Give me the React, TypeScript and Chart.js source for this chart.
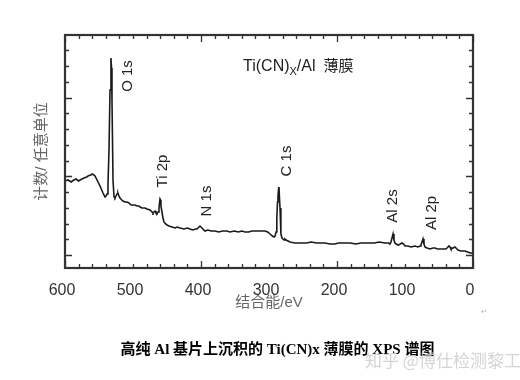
import React, { useEffect, useRef } from "react";
import { Chart, registerables } from "chart.js";

Chart.register(...registerables);

// Binding energy (eV) of each sampled point of the XPS survey spectrum
const energy = [
  600.0, 595.6, 591.0, 587.0, 583.8, 580.0, 577.9, 572.1, 568.0, 566.2, 562.0, 560.3, 557.5, 555.9,
  552.9, 548.5, 544.1, 541.2, 539.7, 538.2, 536.8, 535.3, 533.8, 532.4, 531.6, 530.9, 529.4, 527.9,
  526.5, 525.0, 523.5, 522.1, 520.6, 519.1, 516.5, 514.7, 511.8, 508.8, 505.9, 502.9, 500.0, 497.1,
  494.1, 491.2, 489.7, 486.8, 482.4, 479.4, 475.0, 472.0, 470.6, 469.1, 467.6, 466.2, 464.7, 463.2,
  461.8, 460.3, 459.6, 458.9, 457.4, 455.9, 454.4, 452.0, 450.0, 447.0, 442.6, 438.0, 435.0, 430.9,
  425.0, 420.0, 416.2, 412.0, 408.0, 405.9, 403.0, 401.5, 400.0, 398.5, 396.0, 394.1, 390.0, 385.0,
  379.4, 374.0, 368.0, 362.0, 357.4, 351.0, 345.0, 340.0, 335.3, 330.0, 325.0, 320.6, 315.0, 310.0,
  305.9, 302.0, 298.5, 295.0, 292.6, 291.0, 289.7, 288.5, 287.5, 286.8, 285.8, 285.3, 284.6, 283.8,
  282.5, 280.9, 279.5, 277.9, 276.5, 275.0, 272.0, 269.1, 262.0, 254.4, 245.0, 238.0, 230.0, 225.0,
  218.0, 210.0, 202.9, 198.0, 190.0, 180.9, 172.0, 165.0, 158.0, 151.5, 145.0, 138.0, 129.4, 124.0,
  122.1, 120.6, 119.1, 117.6, 116.2, 114.7, 113.2, 110.0, 107.0, 104.4, 102.0, 100.0, 96.0, 91.0,
  85.3, 81.0, 77.9, 76.5, 75.0, 73.5, 72.1, 70.6, 67.6, 63.0, 59.0, 55.9, 52.0, 48.5,
  44.0, 40.0, 38.2, 35.3, 33.8, 32.4, 29.4, 26.5, 25.0, 22.1, 18.0, 15.0, 11.8, 8.0,
  4.0, 1.5, 0.5,
];

// Counts (arbitrary units) at each energy above
const counts = [
  87, 88, 86, 88, 89, 87, 88, 90, 91, 92, 93, 94, 93, 92,
  88, 82, 75, 71, 72, 74, 83, 118, 178, 210, 200, 168, 88, 71,
  70, 72, 74, 75, 72, 70, 68, 67, 66, 66, 65, 63, 63, 63,
  62, 62, 61, 60, 60, 59, 58, 56, 55, 56, 57, 55, 54, 56,
  60, 69, 68, 62, 56, 50, 46, 44, 43, 42, 41, 40, 41, 40,
  39, 40, 39, 38, 39, 39, 41, 42, 41, 40, 38, 37, 38, 37,
  37, 36, 37, 37, 36, 37, 36, 37, 36, 36, 37, 37, 37, 37,
  37, 36, 34, 32, 31, 32, 36, 50, 66, 72, 80, 81, 70, 60,
  34, 30, 29, 28, 29, 28, 27, 26, 25, 25, 25, 26, 25, 25,
  25, 24, 24, 25, 25, 25, 24, 25, 25, 25, 25, 26, 25, 25,
  24, 26, 30, 34, 28, 25, 24, 23, 24, 25, 24, 22, 22, 21,
  22, 21, 22, 23, 26, 29, 24, 21, 20, 19, 20, 20, 19, 19,
  19, 19, 20, 22, 21, 19, 20, 21, 20, 18, 17, 17, 17, 16,
  15, 15, 15,
];

// Axis tick values
const xLabelStep = 100;
const xMinorTicks = [
  0, 20, 40, 60, 80, 100, 120, 140, 160, 180, 200, 220, 240, 260, 280, 300,
  320, 340, 360, 380, 400, 420, 440, 460, 480, 500, 520, 540, 560, 580, 600,
];
const xMajorTicks = [0, 200, 400, 600];
const yMinorTicks = [13, 28.75, 44.5, 60.25, 76, 91.75, 107.5, 123.25, 139, 154.75, 170.5, 186.25, 202, 217.75];
const yMajorTicks = [13, 91.75, 170.5];

// Peak annotations: text and anchor (energy, counts)
const peakNames = ["O 1s", "Ti 2p", "N 1s", "C 1s", "Al 2s", "Al 2p"];
const peakLabelEnergy = [507.4, 455.9, 391.2, 273.5, 117.6, 60.3];
const peakLabelCount = [192, 97, 67, 107, 62, 55];

// Inset title anchor (energy, counts)
const titleEnergy = 338.2;
const titleCount = 201;

const LATIN = "'Liberation Sans', Arial, sans-serif";
const CJK = "'Liberation Sans', 'Noto Sans CJK SC', sans-serif";

const framePlugin = {
  id: "frameTicks",
  afterDatasetsDraw(chart: any) {
    const { ctx, chartArea: a } = chart;
    const xs = chart.scales.x;
    const ys = chart.scales.y;
    ctx.save();
    ctx.strokeStyle = "#333";
    ctx.lineWidth = 1.3;
    ctx.beginPath();
    xMinorTicks.forEach((v) => {
      const px = Math.round(xs.getPixelForValue(v)) + 0.5;
      const len = xMajorTicks.includes(v) ? 7 : 4;
      ctx.moveTo(px, a.bottom);
      ctx.lineTo(px, a.bottom - len);
      ctx.moveTo(px, a.top);
      ctx.lineTo(px, a.top + len);
    });
    yMinorTicks.forEach((v) => {
      const py = Math.round(ys.getPixelForValue(v)) + 0.5;
      const len = yMajorTicks.includes(v) ? 7 : 4;
      ctx.moveTo(a.left, py);
      ctx.lineTo(a.left + len, py);
      ctx.moveTo(a.right, py);
      ctx.lineTo(a.right - len, py);
    });
    ctx.stroke();
    ctx.lineWidth = 2.2;
    ctx.strokeRect(a.left, a.top, a.right - a.left, a.bottom - a.top);

    // peak labels (rotated)
    ctx.fillStyle = "#222";
    ctx.font = `15px ${LATIN}`;
    ctx.textAlign = "center";
    ctx.textBaseline = "middle";
    peakNames.forEach((name, i) => {
      const px = xs.getPixelForValue(peakLabelEnergy[i]);
      const py = ys.getPixelForValue(peakLabelCount[i]);
      ctx.save();
      ctx.translate(px, py);
      ctx.rotate(-Math.PI / 2);
      ctx.fillText(name, 0, 0);
      ctx.restore();
    });

    // inset title: Ti(CN)x/Al 薄膜
    let tx = xs.getPixelForValue(titleEnergy);
    const ty = ys.getPixelForValue(titleCount);
    ctx.textAlign = "left";
    ctx.font = `16px ${LATIN}`;
    ctx.fillText("Ti(CN)", tx, ty);
    tx += ctx.measureText("Ti(CN)").width;
    ctx.font = `11px ${LATIN}`;
    ctx.fillText("X", tx, ty + 5);
    tx += ctx.measureText("X").width;
    ctx.font = `16px ${LATIN}`;
    ctx.fillText("/Al", tx, ty);
    tx += ctx.measureText("/Al").width + 8;
    ctx.font = `15px ${CJK}`;
    ctx.fillText("薄膜", tx, ty);
    ctx.restore();
  },
};

export default function App() {
  const ref = useRef<HTMLCanvasElement | null>(null);

  useEffect(() => {
    if (!ref.current) return;
    const chart = new Chart(ref.current, {
      type: "line",
      data: {
        datasets: [
          {
            data: energy.map((e, i) => ({ x: e, y: counts[i] })),
            borderColor: "#1a1a1a",
            borderWidth: 1.6,
            pointRadius: 0,
            tension: 0,
            fill: false,
          },
        ],
      },
      options: {
        responsive: false,
        animation: false,
        layout: { padding: { left: 0, right: 47, top: 35, bottom: 68 } },
        plugins: { legend: { display: false }, tooltip: { enabled: false } },
        scales: {
          x: {
            type: "linear",
            min: 0,
            max: 600,
            reverse: true,
            grid: { display: false },
            border: { display: false },
            ticks: {
              stepSize: xLabelStep,
              color: "#333",
              font: { size: 16, family: LATIN },
              padding: 5,
              labelOffset: -3,
              maxRotation: 0,
            },
            title: {
              display: true,
              text: "结合能/eV",
              color: "#666",
              font: { size: 15, family: CJK },
              padding: { top: 0, bottom: 0 },
            },
            afterFit: (s: any) => {
              s.height = 44;
            },
          },
          y: {
            type: "linear",
            min: 0,
            max: 233,
            grid: { display: false },
            border: { display: false },
            ticks: { display: false },
            title: {
              display: true,
              text: "计数/ 任意单位",
              color: "#666",
              font: { size: 15, family: CJK },
              padding: { top: 33, bottom: 0 },
            },
            afterFit: (s: any) => {
              s.width = 65;
            },
          },
        },
      },
      plugins: [framePlugin],
    });
    return () => chart.destroy();
  }, []);

  return (
    <div style={{ position: "fixed", left: 0, top: 0, width: 520, height: 380, background: "#fff" }}>
      <canvas ref={ref} width={520} height={380} style={{ display: "block" }} />
      <div
        style={{
          position: "absolute",
          left: 0,
          width: 555,
          top: 337,
          textAlign: "center",
          font: "bold 15px 'Liberation Serif', 'Noto Sans CJK SC', serif",
          color: "#000",
          whiteSpace: "nowrap",
        }}
      >
        高纯 Al 基片上沉积的 Ti(CN)x 薄膜的 XPS 谱图
      </div>
      <div
        style={{
          position: "absolute",
          left: 365,
          top: 347,
          font: "17px 'Noto Sans CJK SC', sans-serif",
          color: "rgba(205,205,205,0.85)",
          whiteSpace: "nowrap",
        }}
      >
        知乎 @博仕检测黎工
      </div>
      <div
        style={{
          position: "absolute",
          left: 481,
          top: 307,
          font: "8px 'DejaVu Sans', sans-serif",
          color: "#bbb",
        }}
      >
        ↵
      </div>
    </div>
  );
}
